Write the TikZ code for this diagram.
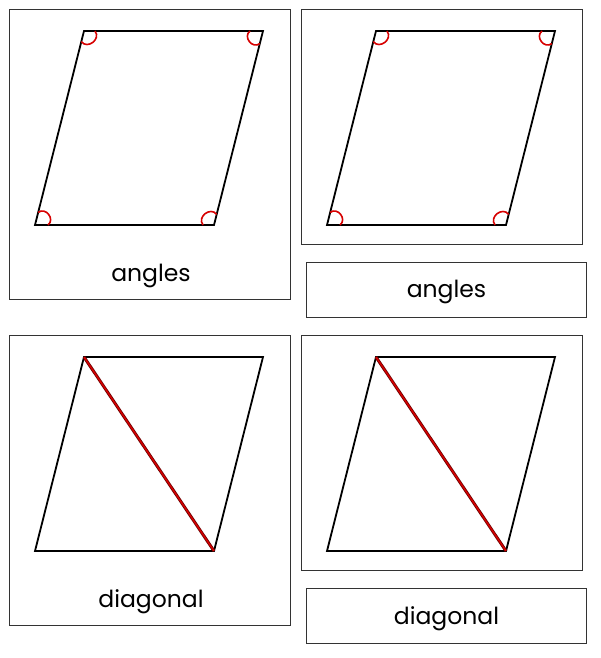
\documentclass[tikz,border=0pt]{standalone}
\usepackage{fontspec}
\setmainfont{Poppins}
\usetikzlibrary{calc}
\definecolor{markred}{RGB}{215,0,0}
\definecolor{darkred}{RGB}{110,0,0}
\newcommand\mypgram[3]{%
  \begin{scope}[shift={(#2,#3)}]
    \coordinate (#1tl) at (84,31);
    \coordinate (#1tr) at (263,31);
    \coordinate (#1br) at (214,225);
    \coordinate (#1bl) at (35,225);
  \end{scope}
  \draw[pgram] (#1tl) -- (#1tr) -- (#1br) -- (#1bl) -- cycle;
}
\newcommand\angmark[4]{\draw[angmarkline] ($(#1)!#4!(#2)$) to[bend left=90, looseness=1.5] ($(#1)!#4!(#3)$);}
\newcommand\allmarks[1]{%
  \angmark{#1tl}{#1tr}{#1bl}{11pt}
  \angmark{#1tr}{#1br}{#1tl}{13pt}
  \angmark{#1br}{#1bl}{#1tr}{11pt}
  \angmark{#1bl}{#1tl}{#1br}{13pt}
}
\begin{document}
\begin{tikzpicture}[x=1pt,y=-1pt,
  cardframe/.style={draw=black!80, line width=1pt},
  pgram/.style={draw=black, line width=1.8pt, line join=miter},
  angmarkline/.style={draw=markred, line width=1.6pt},
  diagdark/.style={draw=darkred, line width=3pt},
  diagred/.style={draw=markred, line width=1.4pt},
  cardtext/.style={font=\fontsize{23.5pt}{28pt}\selectfont, inner sep=0pt, anchor=base, text=black}
]
\useasboundingbox (0,0) rectangle (600,658);
\fill[white] (0,0) rectangle (600,658);
% frames
\draw[cardframe] (9.5,9.5) rectangle (290.5,299.5);
\draw[cardframe] (301.5,9.5) rectangle (582.5,244);
\draw[cardframe] (9.5,335.5) rectangle (290.5,625.5);
\draw[cardframe] (301.5,335.5) rectangle (582.5,570.5);
\node[cardframe, minimum width=280pt, minimum height=55pt, inner sep=0pt] (box2) at (446.5,290) {};
\node[cardframe, minimum width=280pt, minimum height=55pt, inner sep=0pt] (box4) at (446.5,616) {};
% parallelograms
\mypgram{a}{0}{0}
\mypgram{b}{292}{0}
\mypgram{c}{0}{326}
\mypgram{d}{292}{326}
\allmarks{a}
\allmarks{b}
\draw[diagdark] (ctl) -- (cbr);
\draw[diagred] (ctl) -- (cbr);
\draw[diagdark] (dtl) -- (dbr);
\draw[diagred] (dtl) -- (dbr);
% texts
\node[cardtext] (t1) at (151,281) {angles};
\node[cardtext] (t2) at (446.5,297) {angles};
\node[cardtext] (t3) at (151,607.5) {diagonal};
\node[cardtext] (t4) at (446.5,624) {diagonal};
\end{tikzpicture}
\end{document}
